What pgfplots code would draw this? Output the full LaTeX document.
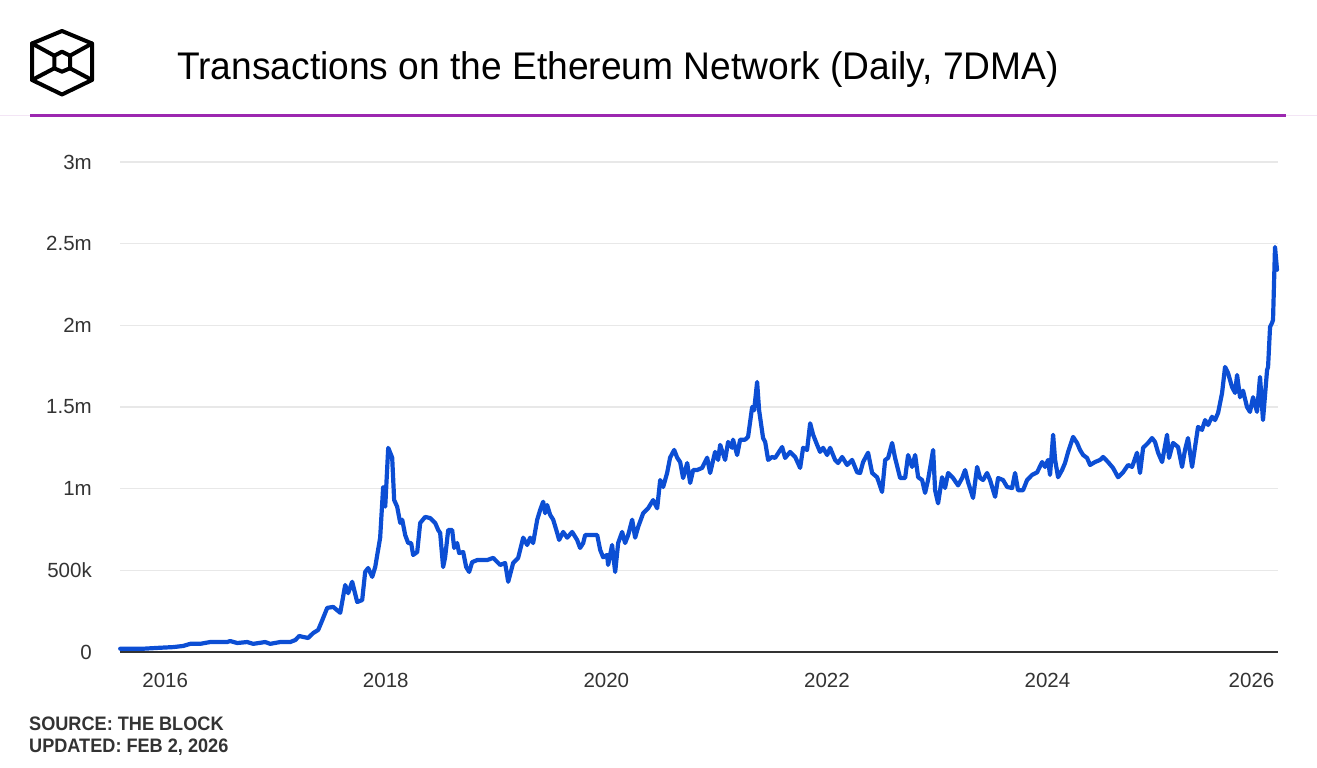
\documentclass[border=0pt]{standalone}
\usepackage{fontspec}
\setmainfont{Liberation Sans}
\newfontfamily\titlefont[FakeStretch=0.965]{Liberation Sans}
\newfontfamily\notefont[FakeStretch=0.93]{Liberation Sans}
\usepackage{pgfplots}
\pgfplotsset{compat=1.18}

\definecolor{ethblue}{RGB}{12,78,212}
\definecolor{gridgray}{RGB}{232,232,232}
\definecolor{basegray}{RGB}{51,51,51}
\definecolor{ticktext}{RGB}{51,51,51}
\definecolor{headpurple}{RGB}{156,39,176}
\definecolor{headlight}{RGB}{243,229,245}

\begin{document}
\begin{tikzpicture}[x=1pt,y=1pt]
\path[use as bounding box] (0,0) rectangle (1317,768);

% header: logo, title, rule
\begin{scope}[line width=4pt, line join=round, line cap=round]
  \draw (62,737) -- (92,724.5) -- (92,688) -- (62,673.5) -- (32,688) -- (32,724.5) -- cycle;
  \draw (62,716.3) -- (70,712.3) -- (70,699.7) -- (62,696.3) -- (54.3,699.7) -- (54.3,712.3) -- cycle;
  \draw (32,724.5) -- (54.3,712.3);
  \draw (92,724.5) -- (70,712.3);
  \draw (32,688) -- (54.3,699.7);
  \draw (92,688) -- (70,699.7);
\end{scope}
\node[anchor=base west, inner sep=0pt] at (177,688.7)
  {\titlefont\fontsize{38.5}{44}\selectfont Transactions on the Ethereum Network (Daily, 7DMA)};
\draw[headlight, line width=1.5pt] (0,652.3) -- (1317,652.3);
\draw[headpurple, line width=2.5pt] (30,652.3) -- (1286,652.3);

\begin{axis}[
  at={(120pt,116pt)}, anchor=south west,
  scale only axis, width=1158pt, height=490pt,
  xmin=2015.59, xmax=2026.09, ymin=0, ymax=3,
  axis line style={draw=none},
  tick style={draw=none},
  clip=false,
  xtick={2016,2018,2020,2022,2024,2025.85},
  xticklabels={2016,2018,2020,2022,2024,2026},
  ytick={0.5,1,1.5,2,2.5,3},
  yticklabels={500k,1m,1.5m,2m,2.5m,3m},
  extra y ticks={0}, extra y tick labels={0},
  extra y tick style={grid=major, major grid style={draw=basegray, line width=2pt}},
  ymajorgrids,
  major grid style={draw=gridgray, line width=1.5pt},
  ticklabel style={font=\fontsize{20.5}{24}\selectfont, text=ticktext, inner sep=0pt},
  yticklabel style={anchor=east, xshift=-28pt},
  xticklabel style={anchor=base, yshift=-35.7pt},
  /pgf/number format/assume math mode=true,
]
\addplot[ethblue, line width=4.2pt, line join=round, line cap=round] table[row sep=\\] {
year tx \\
2015.592 0.020 \\ 2015.800 0.020 \\ 2015.955 0.026 \\ 2016.073 0.030 \\
2016.163 0.037 \\ 2016.227 0.050 \\ 2016.317 0.050 \\ 2016.408 0.061 \\
2016.471 0.061 \\ 2016.562 0.061 \\ 2016.589 0.067 \\ 2016.653 0.055 \\
2016.743 0.061 \\ 2016.798 0.050 \\ 2016.907 0.061 \\ 2016.952 0.050 \\
2017.043 0.061 \\ 2017.133 0.061 \\ 2017.179 0.073 \\ 2017.215 0.098 \\
2017.251 0.092 \\ 2017.296 0.086 \\ 2017.342 0.116 \\ 2017.387 0.135 \\
2017.414 0.178 \\ 2017.432 0.208 \\ 2017.469 0.270 \\ 2017.523 0.276 \\
2017.587 0.240 \\ 2017.632 0.410 \\ 2017.659 0.360 \\ 2017.695 0.430 \\
2017.741 0.306 \\ 2017.786 0.318 \\ 2017.813 0.490 \\ 2017.840 0.514 \\
2017.877 0.460 \\ 2017.904 0.520 \\ 2017.949 0.700 \\ 2017.976 1.010 \\
2017.995 0.890 \\ 2018.022 1.250 \\ 2018.058 1.190 \\ 2018.076 0.930 \\
2018.103 0.890 \\ 2018.131 0.790 \\ 2018.149 0.810 \\ 2018.176 0.716 \\
2018.203 0.667 \\ 2018.230 0.667 \\ 2018.248 0.594 \\ 2018.285 0.612 \\
2018.312 0.790 \\ 2018.357 0.827 \\ 2018.402 0.820 \\ 2018.448 0.790 \\
2018.475 0.747 \\ 2018.493 0.729 \\ 2018.520 0.520 \\ 2018.538 0.580 \\
2018.566 0.747 \\ 2018.602 0.747 \\ 2018.620 0.637 \\ 2018.647 0.667 \\
2018.665 0.606 \\ 2018.702 0.612 \\ 2018.729 0.520 \\ 2018.756 0.490 \\
2018.783 0.550 \\ 2018.829 0.563 \\ 2018.919 0.563 \\ 2018.974 0.576 \\
2019.037 0.533 \\ 2019.082 0.545 \\ 2019.110 0.430 \\ 2019.155 0.545 \\
2019.200 0.576 \\ 2019.246 0.700 \\ 2019.282 0.655 \\ 2019.309 0.700 \\
2019.336 0.667 \\ 2019.373 0.810 \\ 2019.400 0.870 \\ 2019.427 0.920 \\
2019.445 0.850 \\ 2019.463 0.900 \\ 2019.490 0.840 \\ 2019.518 0.810 \\
2019.554 0.729 \\ 2019.572 0.686 \\ 2019.608 0.735 \\ 2019.645 0.700 \\
2019.690 0.735 \\ 2019.735 0.686 \\ 2019.762 0.637 \\ 2019.790 0.667 \\
2019.808 0.716 \\ 2019.853 0.716 \\ 2019.917 0.716 \\ 2019.944 0.625 \\
2019.971 0.580 \\ 2020.007 0.594 \\ 2020.016 0.533 \\ 2020.052 0.655 \\
2020.062 0.594 \\ 2020.080 0.490 \\ 2020.107 0.667 \\ 2020.143 0.735 \\
2020.170 0.667 \\ 2020.198 0.716 \\ 2020.234 0.810 \\ 2020.261 0.700 \\
2020.288 0.765 \\ 2020.334 0.850 \\ 2020.379 0.880 \\ 2020.424 0.930 \\
2020.461 0.880 \\ 2020.488 1.053 \\ 2020.515 1.010 \\ 2020.551 1.096 \\
2020.578 1.190 \\ 2020.615 1.237 \\ 2020.642 1.190 \\ 2020.669 1.163 \\
2020.696 1.065 \\ 2020.733 1.157 \\ 2020.760 1.035 \\ 2020.787 1.114 \\
2020.823 1.114 \\ 2020.868 1.127 \\ 2020.914 1.190 \\ 2020.941 1.096 \\
2020.986 1.225 \\ 2021.013 1.176 \\ 2021.032 1.268 \\ 2021.077 1.176 \\
2021.104 1.286 \\ 2021.140 1.250 \\ 2021.149 1.300 \\ 2021.186 1.206 \\
2021.213 1.300 \\ 2021.258 1.300 \\ 2021.285 1.317 \\ 2021.322 1.500 \\
2021.340 1.480 \\ 2021.367 1.653 \\ 2021.385 1.480 \\ 2021.421 1.310 \\
2021.440 1.286 \\ 2021.467 1.176 \\ 2021.503 1.194 \\ 2021.530 1.188 \\
2021.594 1.255 \\ 2021.621 1.188 \\ 2021.666 1.225 \\ 2021.712 1.194 \\
2021.757 1.127 \\ 2021.784 1.250 \\ 2021.820 1.237 \\ 2021.848 1.400 \\
2021.875 1.330 \\ 2021.911 1.268 \\ 2021.938 1.225 \\ 2021.965 1.250 \\
2022.002 1.206 \\ 2022.029 1.250 \\ 2022.074 1.176 \\ 2022.101 1.157 \\
2022.138 1.194 \\ 2022.183 1.145 \\ 2022.228 1.176 \\ 2022.274 1.100 \\
2022.301 1.096 \\ 2022.328 1.163 \\ 2022.373 1.220 \\ 2022.410 1.096 \\
2022.455 1.070 \\ 2022.500 0.980 \\ 2022.528 1.176 \\ 2022.555 1.188 \\
2022.591 1.280 \\ 2022.618 1.188 \\ 2022.664 1.065 \\ 2022.709 1.065 \\
2022.736 1.206 \\ 2022.772 1.133 \\ 2022.800 1.206 \\ 2022.827 1.070 \\
2022.863 1.053 \\ 2022.890 0.974 \\ 2022.917 1.053 \\ 2022.963 1.237 \\
2022.981 0.990 \\ 2023.008 0.910 \\ 2023.044 1.070 \\ 2023.071 1.004 \\
2023.099 1.096 \\ 2023.144 1.065 \\ 2023.189 1.020 \\ 2023.226 1.065 \\
2023.253 1.114 \\ 2023.280 1.040 \\ 2023.325 0.943 \\ 2023.362 1.133 \\
2023.389 1.065 \\ 2023.416 1.053 \\ 2023.452 1.096 \\ 2023.479 1.053 \\
2023.525 0.950 \\ 2023.552 1.065 \\ 2023.597 1.053 \\ 2023.634 1.010 \\
2023.679 1.004 \\ 2023.706 1.096 \\ 2023.733 0.990 \\ 2023.778 0.990 \\
2023.815 1.053 \\ 2023.860 1.084 \\ 2023.906 1.100 \\ 2023.951 1.163 \\
2023.978 1.133 \\ 2024.005 1.176 \\ 2024.023 1.084 \\ 2024.051 1.330 \\
2024.069 1.176 \\ 2024.096 1.070 \\ 2024.132 1.114 \\ 2024.159 1.157 \\
2024.187 1.225 \\ 2024.232 1.317 \\ 2024.268 1.280 \\ 2024.295 1.237 \\
2024.323 1.206 \\ 2024.359 1.188 \\ 2024.386 1.145 \\ 2024.431 1.163 \\
2024.477 1.176 \\ 2024.504 1.194 \\ 2024.549 1.163 \\ 2024.594 1.127 \\
2024.640 1.070 \\ 2024.685 1.100 \\ 2024.731 1.145 \\ 2024.767 1.133 \\
2024.812 1.220 \\ 2024.839 1.096 \\ 2024.867 1.250 \\ 2024.912 1.280 \\
2024.948 1.310 \\ 2024.975 1.286 \\ 2025.003 1.220 \\ 2025.039 1.163 \\
2025.084 1.330 \\ 2025.102 1.188 \\ 2025.138 1.280 \\ 2025.184 1.255 \\
2025.220 1.133 \\ 2025.247 1.237 \\ 2025.274 1.310 \\ 2025.311 1.133 \\
2025.338 1.255 \\ 2025.365 1.378 \\ 2025.401 1.360 \\ 2025.429 1.420 \\
2025.456 1.390 \\ 2025.492 1.440 \\ 2025.519 1.420 \\ 2025.547 1.464 \\
2025.583 1.586 \\ 2025.610 1.745 \\ 2025.637 1.708 \\ 2025.673 1.623 \\
2025.701 1.586 \\ 2025.719 1.696 \\ 2025.746 1.560 \\ 2025.773 1.600 \\
2025.809 1.500 \\ 2025.836 1.470 \\ 2025.864 1.560 \\ 2025.900 1.470 \\
2025.927 1.684 \\ 2025.954 1.420 \\ 2025.991 1.727 \\ 2026.000 1.745 \\
2026.018 1.990 \\ 2026.036 2.015 \\ 2026.045 2.033 \\ 2026.063 2.480 \\
2026.081 2.340 \\
};
\end{axis}

\node[anchor=base west, inner sep=0pt, text=basegray] at (29,37)
  {\notefont\bfseries\fontsize{19.5}{22}\selectfont SOURCE: THE BLOCK};
\node[anchor=base west, inner sep=0pt, text=basegray] at (29,15.3)
  {\notefont\bfseries\fontsize{19.5}{22}\selectfont UPDATED: FEB 2, 2026};
\end{tikzpicture}
\end{document}
